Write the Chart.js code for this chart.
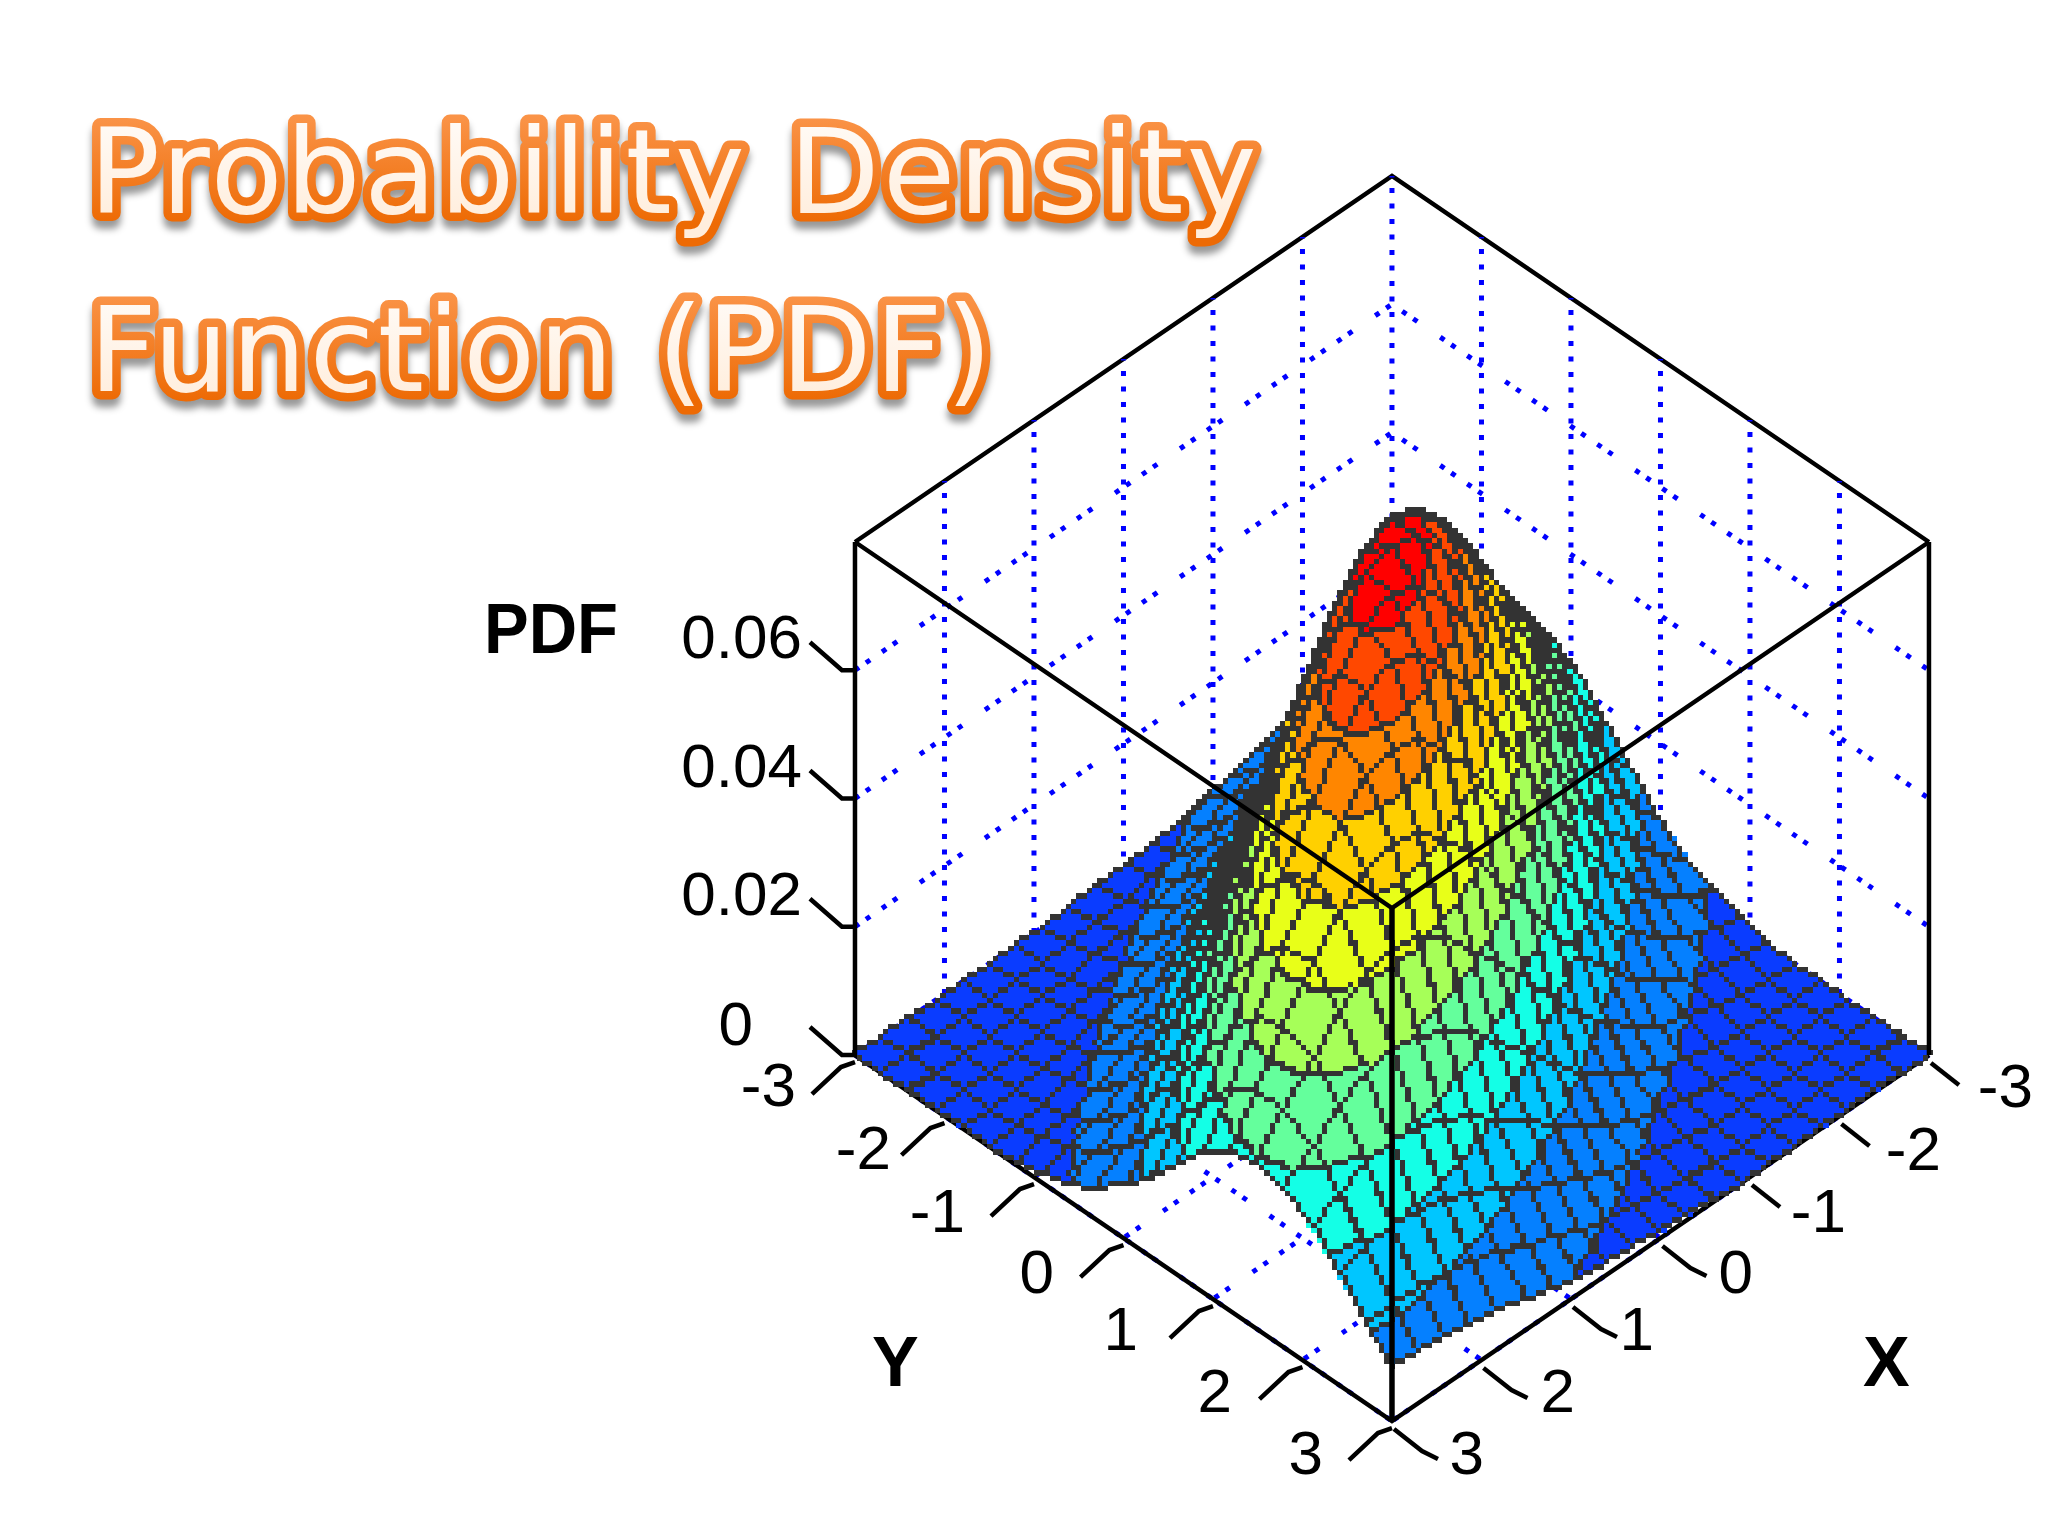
<!DOCTYPE html>
<html>
<head>
<meta charset="utf-8">
<title>Probability Density Function (PDF)</title>
<style>html,body{margin:0;padding:0;background:#fff}canvas{display:block}</style>
<script src="https://cdn.jsdelivr.net/npm/chart.js@4/dist/chart.umd.min.js"></script>
</head>
<body>
<canvas id="c" width="2048" height="1536"></canvas>
<script>
const titleLines = ['Probability Density', 'Function (PDF)'];
const zAxisName = 'PDF', xAxisName = 'X', yAxisName = 'Y';
const xTicks = [-3, -2, -1, 0, 1, 2, 3];
const yTicks = [-3, -2, -1, 0, 1, 2, 3];
const zTicks = [0, 0.02, 0.04, 0.06];
const zTop = 0.08;
const xTickLabels = ['-3', '-2', '-1', '0', '1', '2', '3'];
const yTickLabels = ['-3', '-2', '-1', '0', '1', '2', '3'];
const zTickLabels = ['0', '0.02', '0.04', '0.06'];
// surface samples: x and y run from -3 to 3 in 21 steps
const xGrid = [-3, -2.7, -2.4, -2.1, -1.8, -1.5, -1.2, -0.9, -0.6, -0.3, 0, 0.3, 0.6, 0.9, 1.2, 1.5, 1.8, 2.1, 2.4, 2.7, 3];
const yGrid = [-3, -2.7, -2.4, -2.1, -1.8, -1.5, -1.2, -0.9, -0.6, -0.3, 0, 0.3, 0.6, 0.9, 1.2, 1.5, 1.8, 2.1, 2.4, 2.7, 3];
// one row per y value, one column per x value
const pdfRows = [
[.0084,.0082,.0077,.0069,.0058,.0048,.0037,.0028,.0020,.0014,.0009,.0005,.0003,.0002,.0001,.0001,0,0,0,0,0],
[.0126,.0129,.0126,.0117,.0105,.0090,.0073,.0057,.0043,.0031,.0021,.0014,.0008,.0005,.0003,.0002,.0001,0,0,0,0],
[.0172,.0184,.0189,.0184,.0172,.0154,.0131,.0108,.0084,.0063,.0045,.0031,.0020,.0012,.0007,.0004,.0002,.0001,0,0,0],
[.0216,.0241,.0258,.0264,.0258,.0241,.0216,.0184,.0151,.0118,.0088,.0063,.0043,.0028,.0017,.0010,.0006,.0003,.0002,.0001,0],
[.0247,.0289,.0323,.0346,.0354,.0346,.0323,.0289,.0247,.0202,.0157,.0117,.0084,.0057,.0037,.0023,.0014,.0008,.0004,.0002,.0001],
[.0259,.0316,.0370,.0414,.0443,.0454,.0443,.0414,.0370,.0316,.0259,.0202,.0150,.0108,.0074,.0048,.0030,.0018,.0010,.0006,.0003],
[.0247,.0317,.0387,.0454,.0507,.0543,.0555,.0543,.0507,.0454,.0387,.0317,.0247,.0184,.0132,.0090,.0059,.0036,.0022,.0013,.0007],
[.0216,.0289,.0371,.0453,.0531,.0594,.0635,.0650,.0635,.0594,.0531,.0453,.0371,.0289,.0216,.0154,.0105,.0069,.0042,.0025,.0015],
[.0173,.0241,.0324,.0415,.0507,.0594,.0664,.0711,.0727,.0711,.0664,.0594,.0507,.0415,.0324,.0241,.0173,.0118,.0077,.0048,.0028],
[.0126,.0185,.0258,.0346,.0444,.0543,.0636,.0711,.0761,.0778,.0761,.0711,.0636,.0543,.0444,.0346,.0258,.0185,.0126,.0082,.0051],
[.0084,.0129,.0189,.0264,.0354,.0454,.0555,.0650,.0727,.0778,.0796,.0778,.0727,.0650,.0555,.0454,.0354,.0264,.0189,.0129,.0084],
[.0051,.0082,.0126,.0185,.0258,.0346,.0444,.0543,.0636,.0711,.0761,.0778,.0761,.0711,.0636,.0543,.0444,.0346,.0258,.0185,.0126],
[.0028,.0048,.0077,.0118,.0173,.0241,.0324,.0415,.0507,.0594,.0664,.0711,.0727,.0711,.0664,.0594,.0507,.0415,.0324,.0241,.0173],
[.0015,.0025,.0042,.0069,.0105,.0154,.0216,.0289,.0371,.0453,.0531,.0594,.0635,.0650,.0635,.0594,.0531,.0453,.0371,.0289,.0216],
[.0007,.0013,.0022,.0036,.0059,.0090,.0132,.0184,.0247,.0317,.0387,.0454,.0507,.0543,.0555,.0543,.0507,.0454,.0387,.0317,.0247],
[.0003,.0006,.0010,.0018,.0030,.0048,.0074,.0108,.0150,.0202,.0259,.0316,.0370,.0414,.0443,.0454,.0443,.0414,.0370,.0316,.0259],
[.0001,.0002,.0004,.0008,.0014,.0023,.0037,.0057,.0084,.0117,.0157,.0202,.0247,.0289,.0323,.0346,.0354,.0346,.0323,.0289,.0247],
[0,.0001,.0002,.0003,.0006,.0010,.0017,.0028,.0043,.0063,.0088,.0118,.0151,.0184,.0216,.0241,.0258,.0264,.0258,.0241,.0216],
[0,0,0,.0001,.0002,.0004,.0007,.0012,.0020,.0031,.0045,.0063,.0084,.0108,.0131,.0154,.0172,.0184,.0189,.0184,.0172],
[0,0,0,0,.0001,.0002,.0003,.0005,.0008,.0014,.0021,.0031,.0043,.0057,.0073,.0090,.0105,.0117,.0126,.0129,.0126],
[0,0,0,0,0,.0001,.0001,.0002,.0003,.0005,.0009,.0014,.0020,.0028,.0037,.0048,.0058,.0069,.0077,.0082,.0084]
];
// colour bands of the surface
const bandLimits = [.003, .0115, .019, .0265, .035, .043, .051, .0595, .067, .075];
const bandColors = ['#0a3cff', '#0580ff', '#00c6ff', '#14ffe6', '#64ff9c', '#a6ff58', '#e8ff18', '#ffd000', '#ff8600', '#ff4800', '#ff0000'];
const meshColor = '#333333';

// oblique projection: horizontal = y - x, vertical = height on the page
const DEPTH = 0.6816, RISE = 71.65;
const project = (x, y, z) => ({ x: y - x, y: -(x + y) * DEPTH + z * RISE });
const GAP = { x: NaN, y: NaN };

function polyline(points) { const out = []; points.forEach(p => { out.push(project(p[0], p[1], p[2])); }); out.push(GAP); return out; }

const wallVerticals = [], wallDiagonals = [], floorLines = [];
xTicks.slice(0, -1).forEach(x => wallVerticals.push(...polyline([[x, -3, 0], [x, -3, zTop]])));
yTicks.slice(1, -1).forEach(y => wallVerticals.push(...polyline([[-3, y, 0], [-3, y, zTop]])));
zTicks.slice(1).forEach(z => {
  wallDiagonals.push(...polyline([[3, -3, z], [-3, -3, z], [-3, 3, z]]));
});
xTicks.forEach(x => floorLines.push(...polyline([[x, -3, 0], [x, 3, 0]])));
yTicks.forEach(y => floorLines.push(...polyline([[-3, y, 0], [3, y, 0]])));

const backFrame = polyline([[3, -3, zTop], [-3, -3, zTop], [-3, 3, zTop]]);
const frontTop = polyline([[3, -3, zTop], [3, 3, zTop], [-3, 3, zTop]]);
const frontBase = polyline([[3, -3, 0], [3, 3, 0], [-3, 3, 0]]);
const leftPost = polyline([[3, -3, 0], [3, -3, zTop]]);
const rightPost = polyline([[-3, 3, 0], [-3, 3, zTop]]);
const frontPost = polyline([[3, 3, 0], [3, 3, zTop]]);

const surfacePoints = [];
yGrid.forEach((y, j) => xGrid.forEach((x, i) => surfacePoints.push(project(x, y, pdfRows[j][i]))));

// ---- surface painter: a coarse raster, enlarged with hard pixels
const CELLS = xGrid.length, BW = 392, BH = 294;
function bandOf(z) { let b = 0; while (b < bandLimits.length && z >= bandLimits[b]) b++; return b + 1; }
function hex(c) { return [parseInt(c.slice(1, 3), 16), parseInt(c.slice(3, 5), 16), parseInt(c.slice(5, 7), 16)]; }

function rasterSurface(pts) {
  const buf = new Uint8Array(BW * BH), DARK = 20;
  const S = 2048 / BW;
  const P = pts.map(p => ({ x: p.x / S, y: p.y / S }));
  const Z = [];
  pdfRows.forEach(r => r.forEach(v => Z.push(v)));
  const tri = (a, b, c) => {
    const A = P[a], B = P[b], C = P[c];
    const den = (B.y - C.y) * (A.x - C.x) + (C.x - B.x) * (A.y - C.y);
    if (Math.abs(den) < 1e-6) return;
    const x0 = Math.max(0, Math.floor(Math.min(A.x, B.x, C.x))), x1 = Math.min(BW - 1, Math.ceil(Math.max(A.x, B.x, C.x)));
    const y0 = Math.max(0, Math.floor(Math.min(A.y, B.y, C.y))), y1 = Math.min(BH - 1, Math.ceil(Math.max(A.y, B.y, C.y)));
    for (let py = y0; py <= y1; py++) for (let px = x0; px <= x1; px++) {
      const sx = px + .5, sy = py + .5;
      const l1 = ((B.y - C.y) * (sx - C.x) + (C.x - B.x) * (sy - C.y)) / den;
      const l2 = ((C.y - A.y) * (sx - C.x) + (A.x - C.x) * (sy - C.y)) / den;
      const l3 = 1 - l1 - l2;
      if (l1 < -0.02 || l2 < -0.02 || l3 < -0.02) continue;
      buf[py * BW + px] = bandOf(l1 * Z[a] + l2 * Z[b] + l3 * Z[c]);
    }
  };
  const line = (a, b) => {
    let x0 = Math.floor(P[a].x), y0 = Math.floor(P[a].y);
    const x1 = Math.floor(P[b].x), y1 = Math.floor(P[b].y);
    const dx = Math.abs(x1 - x0), dy = -Math.abs(y1 - y0), sx = x0 < x1 ? 1 : -1, sy = y0 < y1 ? 1 : -1;
    let e = dx + dy;
    for (;;) {
      if (x0 >= 0 && y0 >= 0 && x0 < BW && y0 < BH) buf[y0 * BW + x0] = DARK;
      if (x0 === x1 && y0 === y1) break;
      const e2 = 2 * e;
      if (e2 >= dy) { e += dy; x0 += sx; }
      if (e2 <= dx) { e += dx; y0 += sy; }
    }
  };
  for (let sum = 0; sum <= 2 * (CELLS - 2); sum++) {
    for (let j = 0; j < CELLS - 1; j++) {
      const i = sum - j;
      if (i < 0 || i >= CELLS - 1) continue;
      const a = j * CELLS + i, b = a + 1, d = a + CELLS, c = d + 1;
      tri(a, b, c); tri(a, c, d);
      line(a, b); line(b, c); line(c, d); line(d, a);
    }
  }
  const palette = bandColors.map(hex);
  const mesh = hex(meshColor);
  const off = document.createElement('canvas');
  off.width = BW; off.height = BH;
  const octx = off.getContext('2d');
  const img = octx.createImageData(BW, BH);
  for (let y = 0; y < BH; y++) for (let x = 0; x < BW; x++) {
    const k = y * BW + x, v = buf[k];
    if (!v) continue;
    let col;
    if (v === DARK) col = mesh;
    else {
      const r = x + 1 < BW ? buf[k + 1] : 0, u = y + 1 < BH ? buf[k + BW] : 0;
      const edge = (r && r !== DARK && r !== v) || (u && u !== DARK && u !== v);
      col = edge ? mesh : palette[v - 1];
    }
    const o = k * 4;
    img.data[o] = col[0]; img.data[o + 1] = col[1]; img.data[o + 2] = col[2]; img.data[o + 3] = 255;
  }
  octx.putImageData(img, 0, 0);
  return off;
}

const surfacePlugin = {
  id: 'surfacePainter',
  afterDatasetDraw(chart, args) {
    if (chart.data.datasets[args.index].label !== 'PDF surface') return;
    const pts = chart.getDatasetMeta(args.index).data.map(e => ({ x: e.x, y: e.y }));
    const off = rasterSurface(pts);
    const ctx = chart.ctx;
    ctx.save();
    ctx.imageSmoothingEnabled = false;
    ctx.drawImage(off, 0, 0, 2048, 1536);
    ctx.restore();
  }
};

// ---- tick marks, tick labels, axis names and the title
const zLabelPlace = [[-102, -10], [-53, -12], [-53, -12], [-53, -12]];
const yLabelPlace = [[-59, 51], [-53.5, 53], [-69, 55], [-69.5, 55], [-75, 51], [-70.5, 52], [-69, 53]];
const xLabelPlace = [[104, 52], [101.5, 54], [96, 55], [92.5, 55], [83, 51], [93.5, 52], [92, 53]];

const annotationPlugin = {
  id: 'axisText',
  afterDraw(chart) {
    const ctx = chart.ctx, U = chart.scales.x, V = chart.scales.y;
    const at = (x, y, z) => { const p = project(x, y, z); return { x: U.getPixelForValue(p.x), y: V.getPixelForValue(p.y) }; };
    const stroke = (P, offs) => {
      ctx.beginPath();
      offs.forEach((o, n) => { n ? ctx.lineTo(P.x + o[0], P.y + o[1]) : ctx.moveTo(P.x + o[0], P.y + o[1]); });
      ctx.stroke();
    };
    ctx.save();
    ctx.strokeStyle = '#000'; ctx.fillStyle = '#000'; ctx.lineWidth = 4.5;
    ctx.textBaseline = 'alphabetic'; ctx.textAlign = 'right';
    ctx.font = "62px 'Liberation Sans'";
    zTicks.forEach((z, n) => {
      const P = at(3, -3, z);
      stroke(P, [[0, 0], [-13, 0], [-45, -28]]);
      ctx.fillText(zTickLabels[n], P.x + zLabelPlace[n][0], P.y + zLabelPlace[n][1]);
    });
    yTicks.forEach((y, n) => {
      const P = at(3, y, 0);
      stroke(P, [[0, 7], [-14, 12], [-43, 39]]);
      ctx.fillText(yTickLabels[n], P.x + yLabelPlace[n][0], P.y + yLabelPlace[n][1]);
    });
    xTicks.forEach((x, n) => {
      const P = at(x, 3, 0);
      stroke(P, x < 0 ? [[2, 8], [30, 30]] : [[2, 8], [30, 30], [46, 38]]);
      ctx.fillText(xTickLabels[n], P.x + xLabelPlace[n][0], P.y + xLabelPlace[n][1]);
    });
    ctx.font = "bold 70px 'Liberation Sans'";
    ctx.textAlign = 'left';
    ctx.fillText(zAxisName, 484, 653, 134);
    ctx.fillText(yAxisName, 872, 1386);
    ctx.fillText(xAxisName, 1863, 1386);

    // title
    ctx.font = "118px 'DejaVu Sans'";
    ctx.letterSpacing = '3.2px';
    ctx.lineJoin = 'round';
    titleLines.forEach((t, n) => {
      const base = n === 0 ? 213 : 391, left = 89;
      const g = ctx.createLinearGradient(0, base - 95, 0, base + 10);
      g.addColorStop(0, '#fa9347'); g.addColorStop(1, '#ed6a04');
      ctx.save();
      ctx.shadowColor = 'rgba(0,0,0,.4)'; ctx.shadowBlur = 7; ctx.shadowOffsetY = 8;
      ctx.strokeStyle = g; ctx.lineWidth = 17;
      ctx.strokeText(t, left, base);
      ctx.restore();
      const f = ctx.createLinearGradient(0, base - 90, 0, base + 5);
      f.addColorStop(0, '#fffaf5'); f.addColorStop(1, '#ffeedd');
      ctx.fillStyle = f;
      ctx.fillText(t, left, base);
    });
    ctx.restore();
  }
};

const sparseDots = [5, 8.3, 5, 14.4, 5, 8.3, 5, 27.7];
const plain = { showLine: true, pointRadius: 0, spanGaps: false, tension: 0, fill: false };
new Chart(document.getElementById('c'), {
  type: 'scatter',
  data: {
    datasets: [
      { ...plain, label: 'Back frame', data: backFrame, borderColor: '#000', borderWidth: 4.5, order: 9 },
      { ...plain, label: 'Wall verticals', data: wallVerticals, borderColor: '#0000ff', borderWidth: 5, borderDash: [5, 10.5], order: 8 },
      { ...plain, label: 'Wall levels', data: wallDiagonals, borderColor: '#0000ff', borderWidth: 5, borderDash: sparseDots, order: 7 },
      { ...plain, label: 'Floor grid', data: floorLines, borderColor: '#0000ff', borderWidth: 5, borderDash: sparseDots, order: 6 },
      { ...plain, label: 'Front base', data: frontBase, borderColor: '#000', borderWidth: 4.5, order: 5 },
      { label: 'PDF surface', data: surfacePoints, showLine: false, pointRadius: 0, order: 4 },
      { ...plain, label: 'Left post', data: leftPost, borderColor: '#000', borderWidth: 4.5, order: 3 },
      { ...plain, label: 'Right post', data: rightPost, borderColor: '#000', borderWidth: 4.5, order: 3 },
      { ...plain, label: 'Front top', data: frontTop, borderColor: '#000', borderWidth: 4.5, order: 2 },
      { ...plain, label: 'Front post', data: frontPost, borderColor: '#000', borderWidth: 5.5, order: 1 }
    ]
  },
  options: {
    responsive: false, animation: false, devicePixelRatio: 1,
    layout: { padding: 0 },
    plugins: { legend: { display: false }, tooltip: { enabled: false }, title: { display: false } },
    scales: {
      x: { type: 'linear', display: false, min: -15.553, max: 7.330 },
      y: { type: 'linear', display: false, min: -5.374, max: 11.788 }
    }
  },
  plugins: [surfacePlugin, annotationPlugin]
});
</script>
</body>
</html>
